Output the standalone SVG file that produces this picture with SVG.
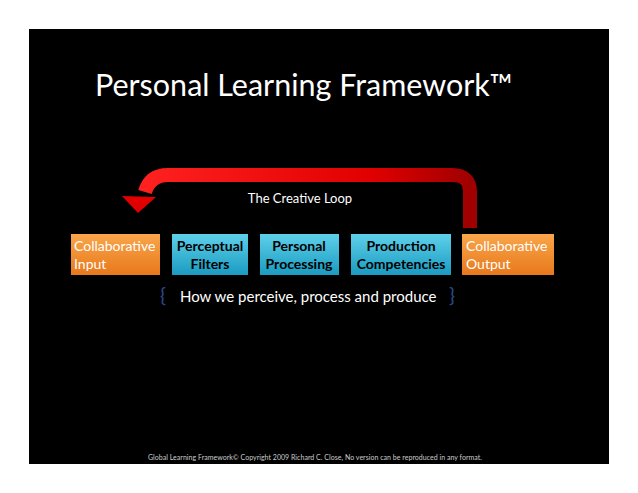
<svg xmlns="http://www.w3.org/2000/svg" width="638" height="493" viewBox="0 0 638 493">
<defs>
<linearGradient id="og" x1="0" y1="0" x2="0" y2="1"><stop offset="0" stop-color="#f9a64a"/><stop offset="1" stop-color="#e8781c"/></linearGradient>
<linearGradient id="bg" x1="0" y1="0" x2="0" y2="1"><stop offset="0" stop-color="#5fd0ea"/><stop offset="1" stop-color="#1a9bc0"/></linearGradient>
<linearGradient id="rg" x1="0" y1="0" x2="1" y2="0"><stop offset="0" stop-color="#ff2020"/><stop offset="0.7" stop-color="#e00000"/><stop offset="1" stop-color="#a00000"/></linearGradient>
<style>
.t{font-family:Lato,"Open Sans",sans-serif}
.o{fill:url(#og)}.b{fill:url(#bg)}
.ow{fill:#fff;font-size:14px}
.bk{fill:#000;font-size:14px;font-weight:bold;text-anchor:middle}
</style>
</defs>
<rect width="638" height="493" fill="#fff"/>
<rect x="29" y="29" width="580" height="435" fill="#000"/>
<text class="t" x="95" y="96" font-size="30.5" fill="#fff">Personal Learning Framework™</text>
<g id="connectors">
<path d="M470 228 V192 Q470 175 452 175 H168 Q150 175 145 192" fill="none" stroke="url(#rg)" stroke-width="14"/>
<polygon points="122,196 156,197 138,213" fill="#e00000"/>
</g>
<text class="t" x="300" y="203" font-size="13" fill="#fff" text-anchor="middle">The Creative Loop</text>
<g id="n1"><rect class="o" x="71" y="234" width="89" height="41"/><text class="t ow" x="74" y="251">Collaborative</text><text class="t ow" x="74" y="269">Input</text></g>
<g id="n2"><rect class="b" x="172" y="234" width="76" height="41"/><text class="t bk" x="210" y="251">Perceptual</text><text class="t bk" x="210" y="269">Filters</text></g>
<g id="n3"><rect class="b" x="260" y="234" width="79" height="41"/><text class="t bk" x="299" y="251">Personal</text><text class="t bk" x="299" y="269">Processing</text></g>
<g id="n4"><rect class="b" x="351" y="234" width="100" height="41"/><text class="t bk" x="401" y="251">Production</text><text class="t bk" x="401" y="269">Competencies</text></g>
<g id="n5"><rect class="o" x="462" y="234" width="92" height="41"/><text class="t ow" x="466" y="251">Collaborative</text><text class="t ow" x="466" y="269">Output</text></g>
<text class="t" x="160" y="302" font-size="20" fill="#2a4a8a">{</text>
<text class="t" x="449" y="302" font-size="20" fill="#2a4a8a">}</text>
<text class="t" x="180" y="302" font-size="15" fill="#fff">How we perceive, process and produce</text>
<text class="t" x="148" y="460" font-size="7" fill="#ccc" textLength="334">Global Learning Framework© Copyright 2009 Richard C. Close, No version can be reproduced in any format.</text>
</svg>
